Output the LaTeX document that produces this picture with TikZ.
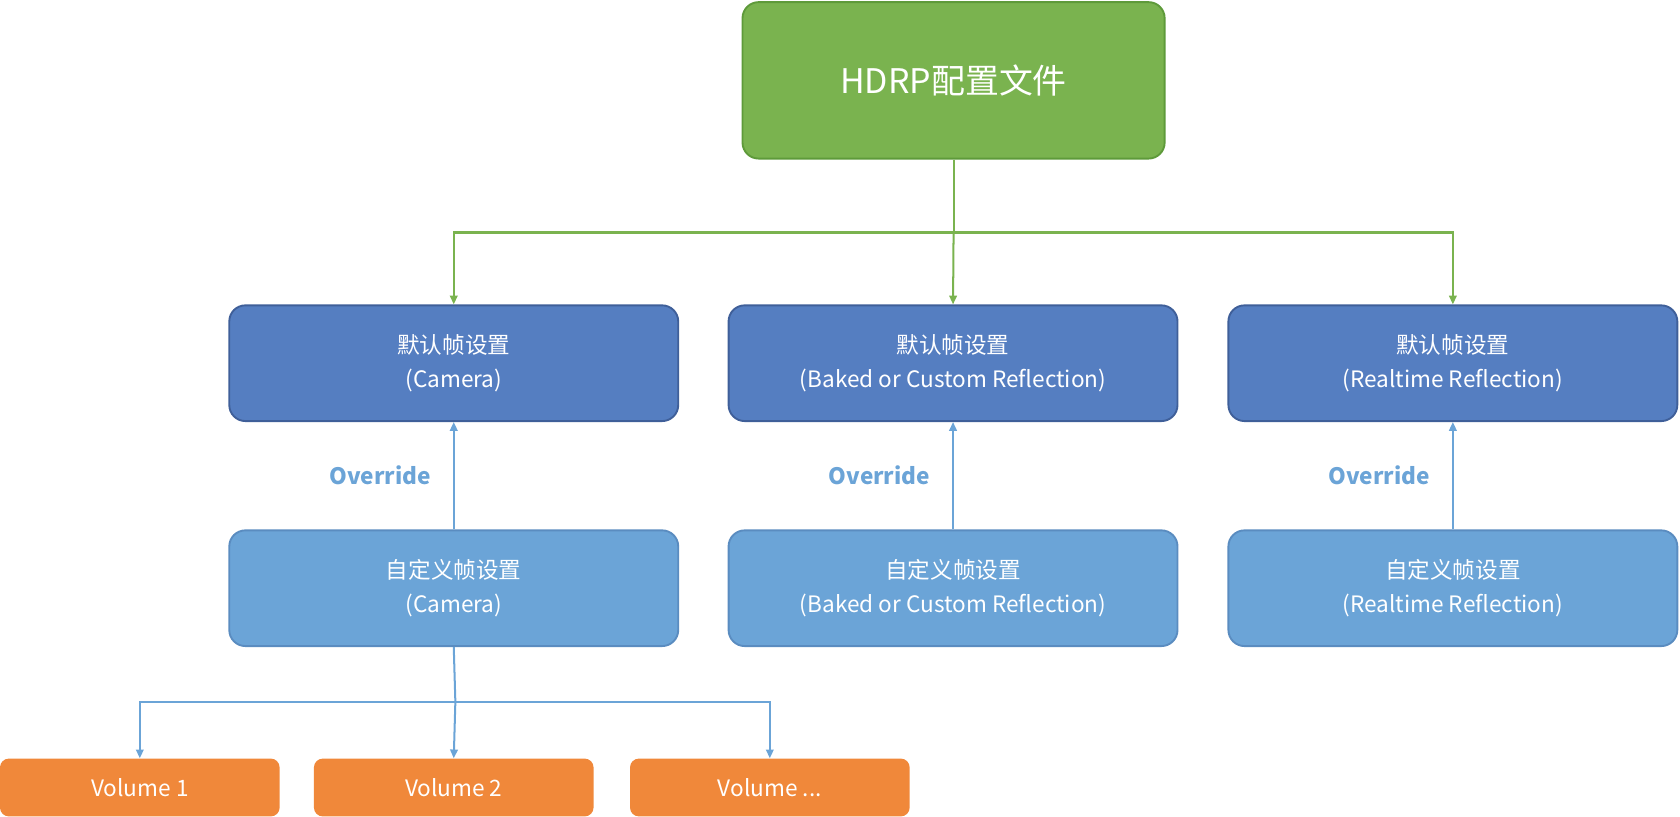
\documentclass[tikz,border=0pt]{standalone}
\usepackage{fontspec}
\setmainfont{Noto Sans CJK SC}
\usetikzlibrary{arrows.meta}
\definecolor{gfill}{HTML}{7AB34F}
\definecolor{gline}{HTML}{5E9A3A}
\definecolor{bfill}{HTML}{557EC1}
\definecolor{bline}{HTML}{3F5F99}
\definecolor{lfill}{HTML}{6BA4D7}
\definecolor{lline}{HTML}{5A8CC0}
\definecolor{ofill}{HTML}{F0883A}
\begin{document}
\begin{tikzpicture}[x=0.03cm,y=-0.03cm,
  box/.style={draw, line width=1.5pt, rounded corners=0.45cm, text=white, align=center,
    minimum width=12.57cm, minimum height=3.24cm, font=\fontsize{18}{27}\selectfont},
  top/.style={box, fill=gfill, draw=gline, minimum width=11.82cm, minimum height=4.38cm,
    font=\fontsize{27}{32}\selectfont},
  def/.style={box, fill=bfill, draw=bline},
  cus/.style={box, fill=lfill, draw=lline},
  vol/.style={fill=ofill, rounded corners=0.25cm, text=white, minimum width=7.83cm,
    minimum height=1.62cm, font=\fontsize{18}{22}\selectfont},
  garr/.style={draw=gfill, line width=1.6pt, -{Triangle[width=6pt,length=7pt]}},
  barr/.style={draw=lfill, line width=1.6pt, -{Triangle[width=6pt,length=7pt]}},
  ovr/.style={text=lfill, font=\fontsize{18}{22}\selectfont\bfseries}]
\useasboundingbox (0,0) rectangle (1568,762);
\node[top] (hdrp) at (890,75) {HDRP配置文件};
\node[def] (d1) at (423.5,339) {默认帧设置\\(Camera)};
\node[def] (d2) at (889.5,339) {默认帧设置\\(Baked or Custom Reflection)};
\node[def] (d3) at (1356,339) {默认帧设置\\(Realtime Reflection)};
\node[cus] (c1) at (423.5,549) {自定义帧设置\\(Camera)};
\node[cus] (c2) at (889.5,549) {自定义帧设置\\(Baked or Custom Reflection)};
\node[cus] (c3) at (1356,549) {自定义帧设置\\(Realtime Reflection)};
\node[vol] (v1) at (130.5,735) {Volume 1};
\node[vol] (v2) at (423.5,735) {Volume 2};
\node[vol] (v3) at (718.5,735) {Volume ...};
\coordinate (gj) at (890,217);
\coordinate (bj) at (425,655);
\draw[draw=gfill, line width=1.6pt] (hdrp.south) -- (gj);
\draw[garr] (gj) -| (d1.north);
\draw[garr] (gj) -- (d2.north);
\draw[garr] (gj) -| (d3.north);
\draw[barr] (c1.north) -- node[ovr, left=0.5cm] {Override} (d1.south);
\draw[barr] (c2.north) -- node[ovr, left=0.5cm] {Override} (d2.south);
\draw[barr] (c3.north) -- node[ovr, left=0.5cm] {Override} (d3.south);
\draw[draw=lfill, line width=1.6pt] (c1.south) -- (bj);
\draw[barr] (bj) -| (v1.north);
\draw[barr] (bj) -- (v2.north);
\draw[barr] (bj) -| (v3.north);
\end{tikzpicture}
\end{document}
